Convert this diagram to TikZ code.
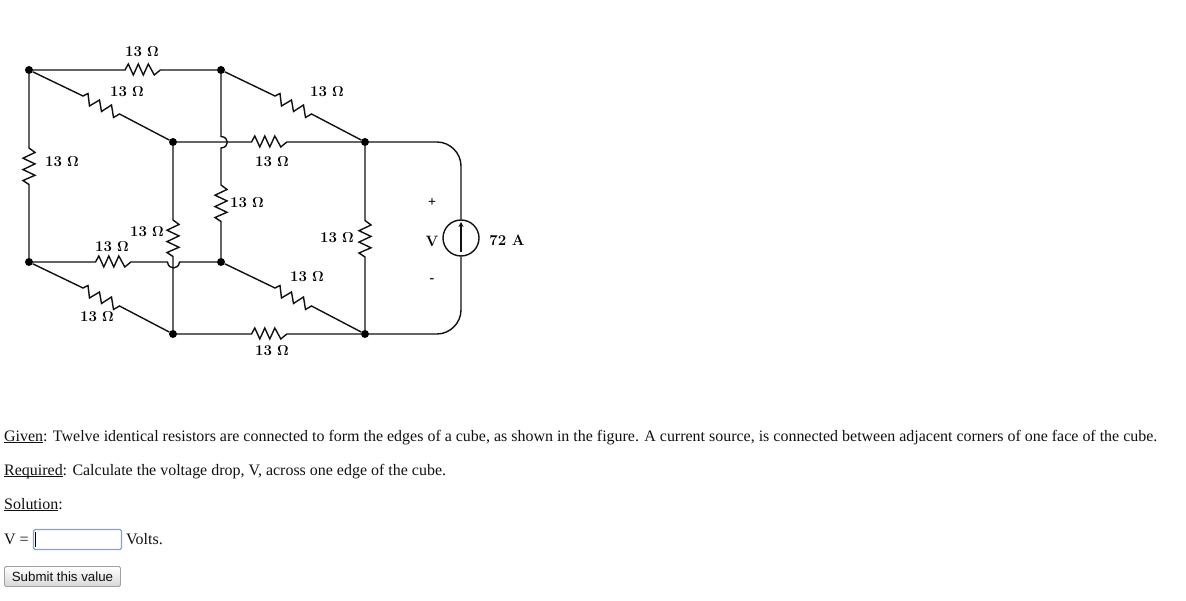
\documentclass[tikz,border=0pt]{standalone}
\usepackage[no-math]{fontspec}
\newfontfamily\tnr{Liberation Serif}
\newfontfamily\arial{Liberation Sans}
\usetikzlibrary{calc,arrows.meta}
\definecolor{ink}{HTML}{111111}
\newcommand\ulbase[1]{\setbox0\hbox{#1}\rlap{\rule[-1.7pt]{\wd0}{.8pt}}\box0}
\newcommand\ohmtext{13\,\,$\mathbf{\Omega}$}
\tikzset{
  x=1pt,y=-1pt,
  wire/.style={line width=1.4pt,draw=ink,line join=miter},
  dot/.style={circle,fill=black,inner sep=0pt,minimum size=8pt},
  hres/.style={to path={-- ($(\tikztostart)+(#1,0)$) -- ++(3.3,-6) -- ++(5,11) -- ++(5,-11) -- ++(5,11) -- ++(5,-11) -- ++(6,11) -- ++(6,-5) -- (\tikztotarget)}},
  vres/.style={to path={-- ($(\tikztostart)+(0,#1)$) -- ++(6,4.5) -- ++(-12,5.7) -- ++(12,5.7) -- ++(-12,5.7) -- ++(12,5.7) -- ++(-12,5.2) -- ++(6,4) -- (\tikztotarget)}},
  dres/.style={to path={-- ($(\tikztostart)+(54,26)$) -- ++(5,-2.5) -- ++(1.5,12.5) -- ++(10,-6) -- ++(2,11.5) -- ++(10,-6.5) -- ++(2,12.5) -- ++(6,-3.5) -- (\tikztotarget)}},
  ohm/.style={font=\bfseries\fontsize{15}{15}\selectfont,inner sep=0pt,yshift=-1pt},
  sign/.style={font=\tnr\bfseries\fontsize{14}{14}\selectfont,inner sep=0pt},
  body/.style={font=\tnr\fontsize{15.97}{16}\selectfont,anchor=base west,inner sep=0pt,text=ink},
}
\begin{document}
\begin{tikzpicture}
\useasboundingbox (0,0) rectangle (1186,601);
\node[dot] (A) at (29,70) {};
\node[dot] (B) at (221,70) {};
\node[dot] (C) at (173,142) {};
\node[dot] (D) at (365,142) {};
\node[dot] (E) at (29,262) {};
\node[dot] (F) at (221,262) {};
\node[dot] (G) at (173,334) {};
\node[dot] (H) at (365,334) {};
\coordinate (j1) at (221,136.5);
\coordinate (j2) at (221,148);
\coordinate (j3) at (167.5,262);
\coordinate (j4) at (179.5,262);
\coordinate (c1) at (437,142);
\coordinate (c2) at (461,166);
\coordinate (c3) at (437,334);
\coordinate (c4) at (461,310);
\coordinate (a1) at (461,252);
\coordinate (a2) at (461,222);
\node[circle,draw=ink,line width=1.4pt,minimum size=36pt,inner sep=0pt] (src) at (461,238) {};
\draw[wire] (A) to[hres=96] (B);
\draw[wire] (C) to[hres=78.5] (D);
\draw[wire] (G) to[hres=78.5] (H);
\draw[wire] (E) to[hres=66.5] (j3) .. controls (168.5,270) and (178.5,270) .. (j4) -- (F);
\draw[wire] (A) to[vres=78] (E);
\draw[wire] (C) to[vres=78] (G);
\draw[wire] (D) to[vres=78.5] (H);
\draw[wire] (B) -- (j1) .. controls (229.5,137) and (229.5,147.5) .. (j2) to[vres=37] (F);
\draw[wire] (A) to[dres] (C);
\draw[wire] (B) to[dres] (D);
\draw[wire] (E) to[dres] (G);
\draw[wire] (F) to[dres] (H);
\draw[wire] (D) -- (c1) .. controls (450,142) and (461,153) .. (c2) -- (src);
\draw[wire] (H) -- (c3) .. controls (450,334) and (461,323) .. (c4) -- (src);
\draw[wire,-{Stealth[length=5pt,width=5pt]}] (a1) -- (a2);
\node[ohm] (l1) at (142,51) {\ohmtext};
\node[ohm] (l2) at (127,91) {\ohmtext};
\node[ohm] (l3) at (327,91) {\ohmtext};
\node[ohm] (l4) at (62,161) {\ohmtext};
\node[ohm] (l5) at (272,161) {\ohmtext};
\node[ohm] (l6) at (247,202) {\ohmtext};
\node[ohm] (l7) at (147,231) {\ohmtext};
\node[ohm] (l8) at (112,246) {\ohmtext};
\node[ohm] (l9) at (337,237) {\ohmtext};
\node[ohm] (l10) at (307,276) {\ohmtext};
\node[ohm] (l11) at (97,316) {\ohmtext};
\node[ohm] (l12) at (272,350) {\ohmtext};
\node[sign] (vp) at (432,203) {+};
\node[ohm] (vv) at (432,240) {V};
\node[sign] (vm) at (432,281) {-};
\node[ohm] (amp) at (507,239) {72 A};
\node[body] (given) at (4,441) {\ulbase{Given}: Twelve identical resistors are connected to form the edges of a cube, as shown in the figure. A current source, is connected between adjacent corners of one face of the cube.};
\node[body] (req) at (4,475) {\ulbase{Required}: Calculate the voltage drop, V, across one edge of the cube.};
\node[body] (sol) at (4,509) {\ulbase{Solution}:};
\node[body] (veq) at (4,544) {V =};
\node[draw={rgb,255:red,120;green,165;blue,240},line width=1.1pt,rounded corners=1.5pt,fill=white,minimum width=88pt,minimum height=20pt,inner sep=0pt] (input) at (77.5,539.5) {};
\coordinate (car1) at (35.5,532);
\coordinate (car2) at (35.5,547);
\draw[line width=1pt,black] (car1) -- (car2);
\node[body] (volts) at (126,544) {Volts.};
\node[draw={rgb,255:red,160;green,160;blue,160},line width=.8pt,rounded corners=1.5pt,top color=white,bottom color={rgb,255:red,215;green,215;blue,215},minimum width=116pt,minimum height=20pt,inner sep=0pt,font=\arial\fontsize{13.3}{13.3}\selectfont,text=ink] (btn) at (62.5,576.5) {Submit this value};
\end{tikzpicture}
\end{document}
